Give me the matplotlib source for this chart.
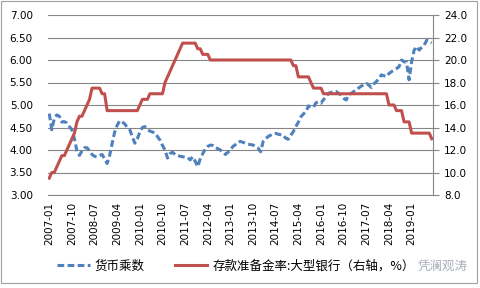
#!/usr/bin/env python3

# Money multiplier vs. reserve requirement ratio (large banks)

import numpy as np
import pandas as pd
import matplotlib.pyplot as plt
from matplotlib.patches import Rectangle
from matplotlib.ticker import FormatStrFormatter

plt.rcParams['font.family'] = ['DejaVu Sans', 'Noto Sans CJK SC']

# =============================================================
# Data (monthly, 2007-01 .. 2019-09)
months = list(pd.period_range('2007-01', '2019-09', freq='M').strftime('%Y-%m'))

tick_labels = ['2007-01', '2007-10', '2008-07', '2009-04', '2010-01', '2010-10',
               '2011-07', '2012-04', '2013-01', '2013-10', '2014-07', '2015-04',
               '2016-01', '2016-10', '2017-07', '2018-04', '2019-01']

# money multiplier (left axis)
multiplier = [
    4.81, 4.45, 4.70, 4.78, 4.75, 4.62, 4.63, 4.60, 4.52, 4.45, 4.25, 3.98,  # 2007
    3.88, 3.98, 4.05, 4.05, 3.98, 3.90, 3.86, 3.85, 3.88, 3.90, 3.80, 3.70,  # 2008
    3.88, 4.15, 4.40, 4.55, 4.65, 4.62, 4.58, 4.50, 4.45, 4.30, 4.15, 4.25,  # 2009
    4.40, 4.50, 4.52, 4.45, 4.42, 4.40, 4.38, 4.30, 4.22, 4.10, 4.00, 3.82,  # 2010
    3.92, 3.95, 3.90, 3.88, 3.86, 3.85, 3.84, 3.83, 3.78, 3.85, 3.75, 3.63,  # 2011
    3.80, 3.92, 4.02, 4.08, 4.11, 4.10, 4.05, 4.03, 4.00, 3.95, 3.90, 3.95,  # 2012
    4.00, 4.08, 4.12, 4.18, 4.19, 4.17, 4.15, 4.13, 4.12, 4.11, 4.08, 4.04,  # 2013
    3.96, 4.19, 4.25, 4.30, 4.33, 4.36, 4.37, 4.35, 4.34, 4.33, 4.26, 4.24,  # 2014
    4.33, 4.41, 4.52, 4.62, 4.74, 4.80, 4.85, 4.98, 4.95, 4.95, 5.05, 5.07,  # 2015
    5.04, 5.12, 5.18, 5.26, 5.28, 5.29, 5.30, 5.26, 5.22, 5.15, 5.11, 5.22,  # 2016
    5.26, 5.30, 5.33, 5.38, 5.42, 5.45, 5.48, 5.44, 5.39, 5.47, 5.52, 5.59,  # 2017
    5.67, 5.65, 5.63, 5.70, 5.74, 5.78, 5.81, 5.85, 6.00, 5.96, 5.95, 5.56,  # 2018
    5.96, 6.22, 6.30, 6.22, 6.28, 6.33, 6.44, 6.41, 6.38,                    # 2019
]

# reserve requirement ratio, large banks, % (right axis)
rrr = [
    9.5, 10.0, 10.0, 10.5, 11.0, 11.5, 11.5, 12.0, 12.5, 13.0, 13.5, 14.5,   # 2007
    15.0, 15.0, 15.5, 16.0, 16.5, 17.5, 17.5, 17.5, 17.5, 17.0, 17.0, 15.5,  # 2008
    15.5, 15.5, 15.5, 15.5, 15.5, 15.5, 15.5, 15.5, 15.5, 15.5, 15.5, 15.5,  # 2009
    16.0, 16.5, 16.5, 16.5, 17.0, 17.0, 17.0, 17.0, 17.0, 17.0, 18.0, 18.5,  # 2010
    19.0, 19.5, 20.0, 20.5, 21.0, 21.5, 21.5, 21.5, 21.5, 21.5, 21.5, 21.0,  # 2011
    21.0, 20.5, 20.5, 20.5, 20.0, 20.0, 20.0, 20.0, 20.0, 20.0, 20.0, 20.0,  # 2012
    20.0, 20.0, 20.0, 20.0, 20.0, 20.0, 20.0, 20.0, 20.0, 20.0, 20.0, 20.0,  # 2013
    20.0, 20.0, 20.0, 20.0, 20.0, 20.0, 20.0, 20.0, 20.0, 20.0, 20.0, 20.0,  # 2014
    20.0, 19.5, 19.5, 18.5, 18.5, 18.5, 18.5, 18.5, 18.0, 17.5, 17.5, 17.5,  # 2015
    17.5, 17.0, 17.0, 17.0, 17.0, 17.0, 17.0, 17.0, 17.0, 17.0, 17.0, 17.0,  # 2016
    17.0, 17.0, 17.0, 17.0, 17.0, 17.0, 17.0, 17.0, 17.0, 17.0, 17.0, 17.0,  # 2017
    17.0, 17.0, 17.0, 16.0, 16.0, 16.0, 15.5, 15.5, 15.5, 14.5, 14.5, 14.5,  # 2018
    13.5, 13.5, 13.5, 13.5, 13.5, 13.5, 13.5, 13.5, 13.0,                    # 2019
]

label_mult = '货币乘数'
label_rrr = '存款准备金率:大型银行（右轴，%）'

# =============================================================
# Figure
fig = plt.figure(figsize=(4.8, 2.88), dpi=100)
ax = fig.add_axes([48/480, 1 - 195/288, (433 - 48)/480, (195 - 15)/288])
ax2 = ax.twinx()

x = np.arange(len(months))
l1, = ax.plot(x, multiplier, color='#4F81BD', lw=2.2, linestyle=(0, (2.2, 1.1)))
l2, = ax2.plot(x, rrr, color='#C0504D', lw=2.2)

ax.set_xlim(-0.5, len(months) - 0.5)
ax.set_xticks([months.index(t) for t in tick_labels])
ax.set_xticklabels(tick_labels)

ax.set_ylim(3, 7)
ax.set_yticks(np.arange(3, 7.01, 0.5))
ax.yaxis.set_major_formatter(FormatStrFormatter('%.2f'))
ax2.set_ylim(8, 24)
ax2.set_yticks(np.arange(8, 24.1, 2))
ax2.yaxis.set_major_formatter(FormatStrFormatter('%.1f'))

ax.grid(axis='y', color='#868686', lw=0.8)
ax.set_axisbelow(True)

for s in ['top', 'left', 'right']:
    ax.spines[s].set_visible(False)
for s in ['top', 'left', 'bottom']:
    ax2.spines[s].set_visible(False)
ax.spines['bottom'].set_color('#868686')
ax2.spines['right'].set_color('#868686')

ax.tick_params(axis='y', length=0, pad=11, labelsize=7.5)
ax.tick_params(axis='x', length=0, pad=5, labelsize=7.5, labelrotation=90)
ax2.tick_params(axis='y', length=4, color='#868686', pad=4, labelsize=7.5)

fig.legend([l1, l2], [label_mult, label_rrr], loc='center',
           bbox_to_anchor=(0.492, 1 - 266/288), ncol=2, frameon=False,
           prop={'family': ['Noto Sans CJK SC', 'DejaVu Sans'], 'size': 9},
           handlelength=2.6, handletextpad=0.4, columnspacing=2.4)

# watermark
fig.text(418/480, 1 - 266/288, '凭澜观涛', color='#a8aeb8', fontsize=9,
         family=['Noto Sans CJK SC'], va='center', ha='left')

# chart border
fig.patches.append(Rectangle((1/480, 1 - 283/288), 476/480, 282/288,
                             transform=fig.transFigure, fill=False,
                             ec='#a0a0a0', lw=0.8))

fig.savefig('out.png', dpi=100)
